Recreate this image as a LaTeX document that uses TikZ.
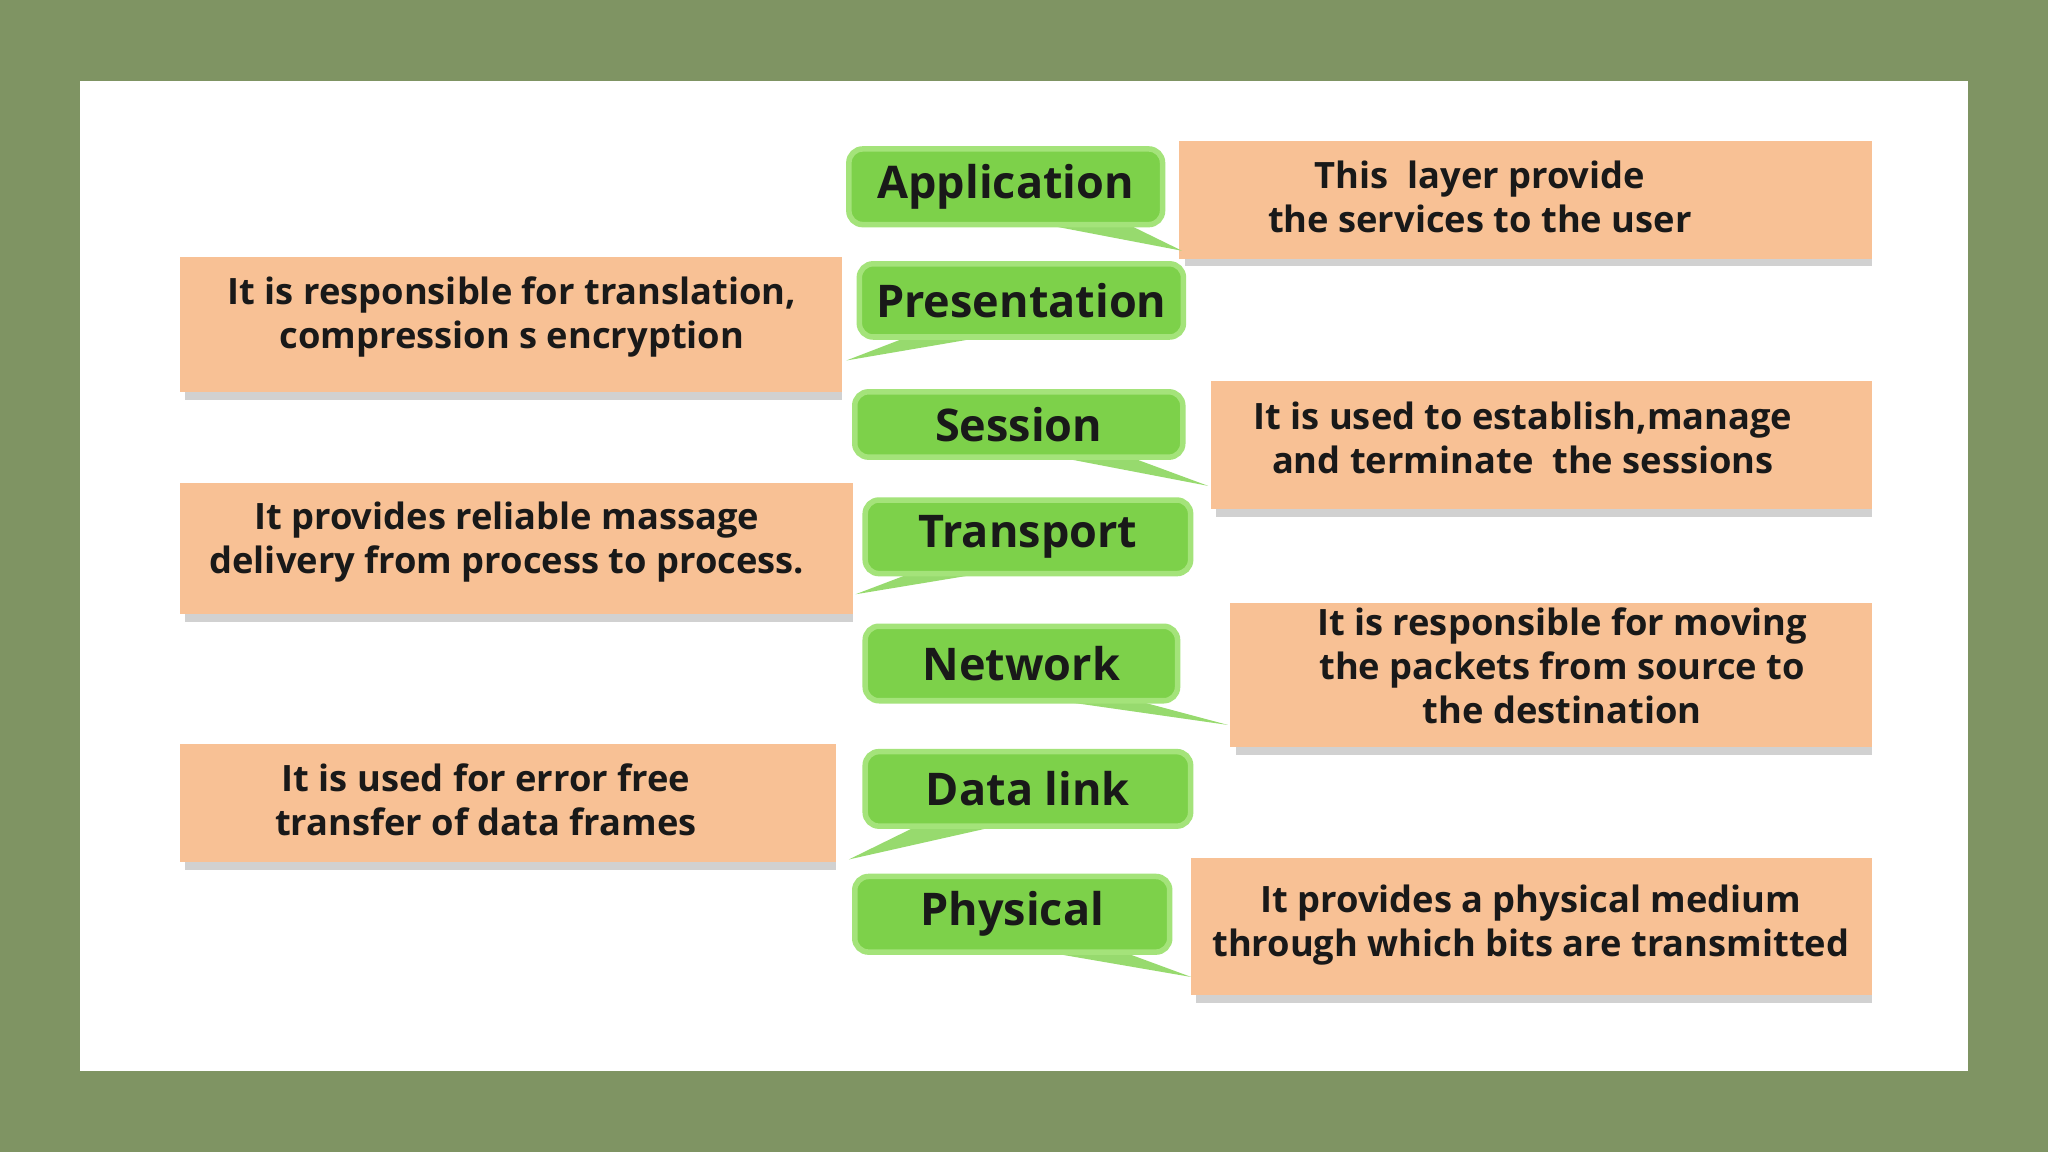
\documentclass[tikz,border=0pt]{standalone}
\usepackage{fontspec}
\setmainfont{Open Sans}
\begin{document}
\begin{tikzpicture}[x=0.01cm,y=-0.01cm,
  lay/.style={fill=layg,draw=layb,line width=1.2pt,rounded corners=3pt},
  tailg/.style={fill=layg!80!white,draw=none},
  desc/.style={fill=orng,draw=none},
  shad/.style={fill=black!18,draw=none},
  lt/.style={font=\fontsize{9.8pt}{11pt}\selectfont\bfseries,text=black!90},
  dt/.style={font=\fontsize{7.9pt}{9.6pt}\selectfont\bfseries,text=black!90,align=center}]
\definecolor{bgg}{HTML}{7F9463}
\definecolor{layg}{HTML}{7DD14A}
\definecolor{layb}{HTML}{A4E37A}
\definecolor{orng}{HTML}{F8C195}
\useasboundingbox (0,0) rectangle (1568,882);
\fill[bgg] (0,0) rectangle (1568,882);
\fill[white] (61,62) rectangle (1507,820);
\foreach \a/\b/\c/\d in {903/108/1433/198, 138/197/645/300, 927/292/1433/390, 138/370/653/470, 942/462/1433/572, 138/570/640/660, 912/657/1433/762}{
  \fill[shad] (\a+4,\d) rectangle (\c,\d+6);
  \fill[desc] (\a,\b) rectangle (\c,\d);
}
\fill[tailg] (790,170) -- (860,170) -- (905,192) -- cycle;
\fill[tailg] (700,256) -- (765,256) -- (648,276) -- cycle;
\fill[tailg] (800,348) -- (860,348) -- (925,372) -- cycle;
\fill[tailg] (705,436) -- (770,436) -- (655,455) -- cycle;
\fill[tailg] (800,535) -- (865,535) -- (940,555) -- cycle;
\fill[tailg] (705,631) -- (770,631) -- (650,658) -- cycle;
\fill[tailg] (790,727) -- (855,727) -- (912,748) -- cycle;
\node[lay,lt,minimum width=2.4cm,minimum height=0.57cm] (app) at (770,143) {Application};
\node[lay,lt,minimum width=2.48cm,minimum height=0.56cm] (pre) at (782,230) {Presentation};
\node[lay,lt,minimum width=2.51cm,minimum height=0.5cm] (ses) at (780,325) {Session};
\node[lay,lt,minimum width=2.49cm,minimum height=0.53cm] (tra) at (787,411) {Transport};
\node[lay,lt,minimum width=2.39cm,minimum height=0.57cm] (net) at (782,508) {Network};
\node[lay,lt,minimum width=2.49cm,minimum height=0.57cm] (dat) at (787,604) {Data link};
\node[lay,lt,minimum width=2.41cm,minimum height=0.57cm] (phy) at (775,700) {Physical};
\node[dt] (dapp) at (1133,151) {This\ \ layer provide\\the services to the user};
\node[dt] (dpre) at (392,243) {It is responsible for translation,\\compression s encryption};
\node[dt] (dses) at (1166,335) {It is used to establish,manage\\and terminate\ \ the sessions};
\node[dt] (dtra) at (388,415) {It provides reliable massage\\delivery from process to process.};
\node[dt] (dnet) at (1196,510) {It is responsible for moving\\the packets from source to\\the destination};
\node[dt] (ddat) at (372,612) {It is used for error free\\transfer of data frames};
\node[dt] (dphy) at (1172,708) {It provides a physical medium\\through which bits are transmitted};
\end{tikzpicture}
\end{document}
